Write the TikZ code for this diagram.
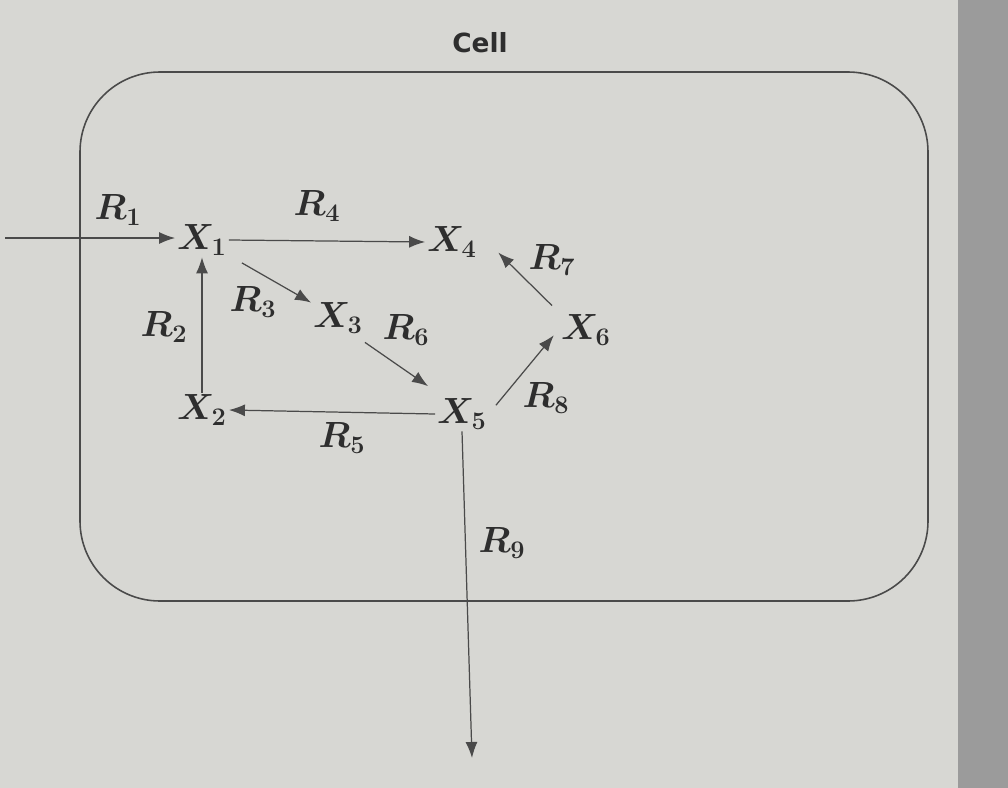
\documentclass[tikz,border=0pt]{standalone}
\usepackage{fontspec}
\newfontfamily\cellfont{DejaVu Sans}
\usetikzlibrary{arrows.meta}
\definecolor{paper}{HTML}{D7D7D3}
\definecolor{strip}{HTML}{9B9B9B}
\definecolor{ink}{HTML}{4A4A4A}
\definecolor{txt}{HTML}{2E2E2E}

\begin{document}
\begin{tikzpicture}[x=0.02cm,y=-0.02cm,
    species/.style={inner sep=1pt,text=txt,font=\fontsize{21}{24}\selectfont\boldmath},
    rate/.style={inner sep=0pt,text=txt,font=\fontsize{20}{24}\selectfont\boldmath},
    flux/.style={color=ink,line width=0.7pt,-{Latex[length=3.2mm,width=2.4mm]}}]
    \fill[paper] (0,0) rectangle (1008,788);
    \fill[strip] (958,0) rectangle (1008,788);
    \useasboundingbox (0,0) rectangle (1008,788);

    % cell wall
    \draw[ink,line width=0.9pt,rounded corners=1.6cm] (80,72) rectangle (928,601);
    \node[text=txt,font=\cellfont\bfseries\fontsize{15}{18}\selectfont] (cell) at (480,43) {Cell};

    \node[species] (x1) at (202,240) {$X_1$};
    \node[species] (x4) at (452,242) {$X_4$};
    \node[species] (x3) at (338,318) {$X_3$};
    \node[species] (x6) at (586,330) {$X_6$};
    \node[species] (x2) at (202,410) {$X_2$};
    \node[species] (x5) at (462,414) {$X_5$};
    \coordinate (in) at (5,238);
    \coordinate (out) at (472,758);

    \path[flux] (in) edge (x1.west |- in)
                (x1.east) edge (x4.west)
                (x1) edge[shorten <=3mm] (x3)
                (x2.north) edge (x1.south)
                ([yshift=-4pt]x3.south east) edge ([xshift=-4pt,yshift=6pt]x5.north west)
                (x5.west) edge (x2.east)
                ([xshift=4pt,yshift=5pt]x5.east) edge ([xshift=-3pt,yshift=-3pt]x6.west)
                ([xshift=-4pt,yshift=4pt]x6.north west) edge ([xshift=11pt,yshift=-6pt]x4.east)
                (x5.south) edge (out);

    \node[rate] (r1) at (118,210) {$R_1$};
    \node[rate] (r4) at (317,206) {$R_4$};
    \node[rate] (r3) at (253,302) {$R_3$};
    \node[rate] (r2) at (164,327) {$R_2$};
    \node[rate] (r7) at (552,260) {$R_7$};
    \node[rate] (r6) at (406,330) {$R_6$};
    \node[rate] (r8) at (546,398) {$R_8$};
    \node[rate] (r5) at (342,438) {$R_5$};
    \node[rate] (r9) at (502,543) {$R_9$};
\end{tikzpicture}
\end{document}
